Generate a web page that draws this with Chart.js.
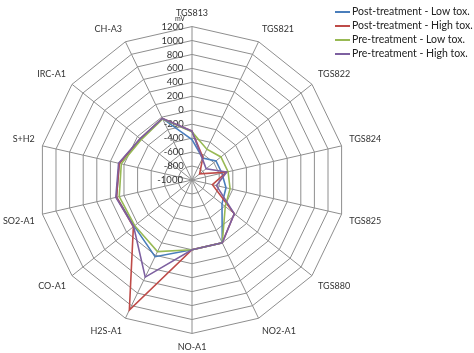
<!DOCTYPE html>
<html>
<head>
<meta charset="utf-8">
<script src="https://cdn.jsdelivr.net/npm/chart.js@4"></script>
<style>
  html, body { margin: 0; padding: 0; background: #fff; }
  #wrap { position: relative; width: 474px; height: 353px; }
  #chart { position: absolute; left: 0; top: 0; }
  #legend { position: absolute; left: 335px; top: 4px; font: 10.5px Lato, sans-serif; color: #222; }
  .item { height: 14px; line-height: 14px; white-space: nowrap; }
  .swatch { display: inline-block; width: 15px; height: 2px; vertical-align: middle; margin-right: 2px; }
  #unit { position: absolute; left: 175px; top: 14px; font: 7px Lato, sans-serif; color: #333; }
</style>
</head>
<body>
<div id="wrap">
  <canvas id="chart" width="474" height="353"></canvas>
  <div id="legend"></div>
  <div id="unit">mV</div>
</div>
<script>
// sensori (assi del radar)
const sensors = ['TGS813', 'TGS821', 'TGS822', 'TGS824', 'TGS825', 'TGS880', 'NO2-A1',
                 'NO-A1', 'H2S-A1', 'CO-A1', 'SO2-A1', 'S+H2', 'IRC-A1', 'CH-A3'];

// valori in mV
const postLow  = [-420, -650, -560, -560, -500, -450, 0, 0, 220, 60, 110, 70, -60, -20];
const postHigh = [-300, -640, -860, -490, -700, -225, 0, 0, 1070, 75, 110, 70, -50, -20];
const preLow   = [-310, -510, -470, -470, -440, -390, 0, 0, 140, 50, 70, 40, -70, -30];
const preHigh  = [-300, -660, -740, -490, -640, -225, 0, 0, 545, 70, 120, 80, -50, -20];

const seriesNames = ['Post-treatment - Low tox.', 'Post-treatment - High tox.',
                     'Pre-treatment - Low tox.', 'Pre-treatment - High tox.'];
const seriesColors = ['#4a7ebb', '#be4b48', '#98b954', '#7d60a0'];
const seriesData = [postLow, postHigh, preLow, preHigh];

const axisMin = -1000;
const axisMax = 1200;
const axisStep = 200;

// spazi finali per spostare le etichette dei tick a sinistra dell'asse
const tickSize = 9.5;
const measure = document.createElement('canvas').getContext('2d');
measure.font = tickSize + 'px Lato';
const spaceW = measure.measureText(' ').width;
function padTick(text) {
    const w = measure.measureText(text).width;
    const n = Math.max(0, Math.round((17 + w) / spaceW));
    return text + ' '.repeat(n);
}

const datasets = seriesData.map((values, i) => ({
    label: seriesNames[i],
    data: values,
    borderColor: seriesColors[i],
    backgroundColor: seriesColors[i],
    borderWidth: 1.6,
    pointRadius: 0,
    fill: false,
    tension: 0,
    order: 3 - i
}));

const ctx = document.getElementById('chart').getContext('2d');
new Chart(ctx, {
    type: 'radar',
    data: { labels: sensors, datasets: datasets },
    options: {
        responsive: false,
        animation: false,
        layout: { padding: { top: 8, bottom: 0, left: 0, right: 88 } },
        plugins: { legend: { display: false }, tooltip: { enabled: false } },
        scales: {
            r: {
                min: axisMin,
                max: axisMax,
                beginAtZero: false,
                ticks: {
                    stepSize: axisStep,
                    showLabelBackdrop: false,
                    backdropPadding: 0,
                    color: '#333',
                    font: { family: 'Lato', size: tickSize },
                    callback: value => padTick(String(value))
                },
                grid: { color: '#8e8e8e', lineWidth: 1 },
                angleLines: { color: '#8e8e8e', lineWidth: 1 },
                pointLabels: {
                    color: '#333',
                    font: { family: 'Lato', size: 9 },
                    padding: 3
                }
            }
        }
    }
});

// legenda HTML in alto a destra
const legend = document.getElementById('legend');
seriesNames.forEach((name, i) => {
    const row = document.createElement('div');
    row.className = 'item';
    row.innerHTML = '<span class="swatch" style="background:' + seriesColors[i] + '"></span>' + name;
    legend.appendChild(row);
});
</script>
</body>
</html>
